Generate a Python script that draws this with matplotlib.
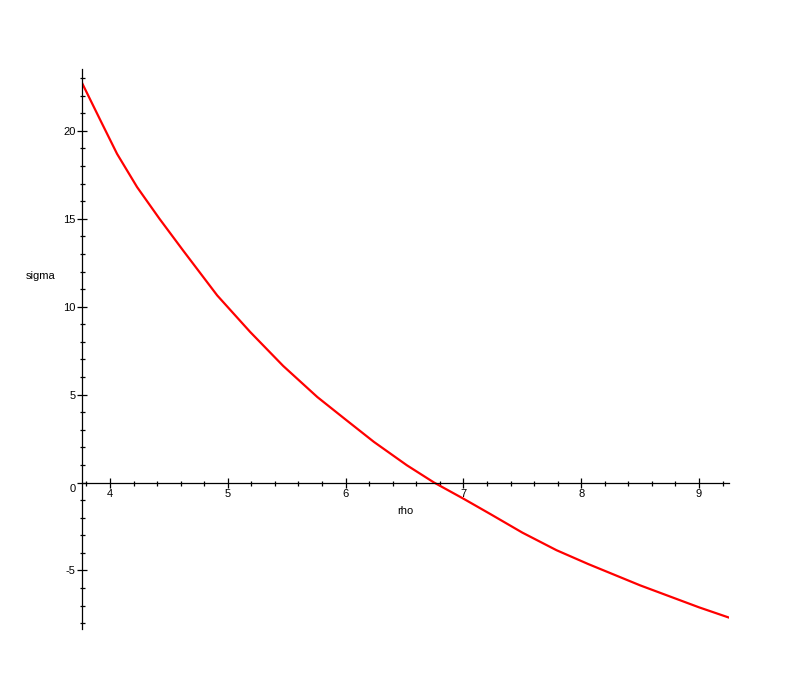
import numpy as np
import matplotlib
matplotlib.use('Agg')
import matplotlib.pyplot as plt
from matplotlib.ticker import MultipleLocator, FixedLocator
from matplotlib.transforms import ScaledTranslation

plt.rcParams['font.family'] = ['Liberation Sans', 'DejaVu Sans']
plt.rcParams['axes.unicode_minus'] = False

# values
rho = [3.76, 3.92, 4.06, 4.23, 4.42, 4.62, 4.91, 5.19, 5.47, 5.76,
       6.0, 6.24, 6.52, 6.75, 7.0, 7.23, 7.5, 7.79, 8.06, 8.5, 9.0, 9.257]
sigma = [22.76, 20.58, 18.69, 16.8, 15.0, 13.2, 10.64, 8.56, 6.63, 4.86,
         3.58, 2.31, 0.98, 0.0, -0.92, -1.80, -2.85, -3.85, -4.64, -5.85,
         -7.10, -7.69]
x_ticks = [4, 5, 6, 7, 8, 9]
y_ticks = [-5, 0, 5, 10, 15, 20]

fig = plt.figure(figsize=(8.1, 6.98), dpi=100)
ax = fig.add_axes([0.1009, 0.0984, 0.7995, 0.8023])

ax.plot(rho, sigma, color='#ff0000', lw=1.6, solid_joinstyle='round')

ax.set_xlim(3.76, 9.257)
ax.set_ylim(-8.35, 23.5)

for s in ['top', 'right']:
    ax.spines[s].set_visible(False)
ax.spines['bottom'].set_position(('data', 0))
for s in ['bottom', 'left']:
    ax.spines[s].set_linewidth(0.9)

ax.xaxis.set_major_locator(FixedLocator(x_ticks))
ax.yaxis.set_major_locator(FixedLocator(y_ticks))
ax.xaxis.set_minor_locator(MultipleLocator(0.2))
ax.yaxis.set_minor_locator(MultipleLocator(1))
ax.tick_params(which='major', direction='inout', length=7.5, width=0.9,
               labelsize=8, pad=0.8)
ax.tick_params(which='minor', direction='inout', length=3.6, width=0.9)

# the 0 label sits a bit lower in the original
for lab in ax.get_yticklabels():
    if lab.get_text() == '0':
        lab.set_transform(lab.get_transform() +
                          ScaledTranslation(0, -5 / 100, fig.dpi_scale_trans))

fig.text(0.05, 0.6046, 'sigma', fontsize=8, ha='center', va='center')
fig.text(0.5, 0.2683, 'rho', fontsize=8, ha='center', va='center')

fig.savefig('out.png', dpi=100)
